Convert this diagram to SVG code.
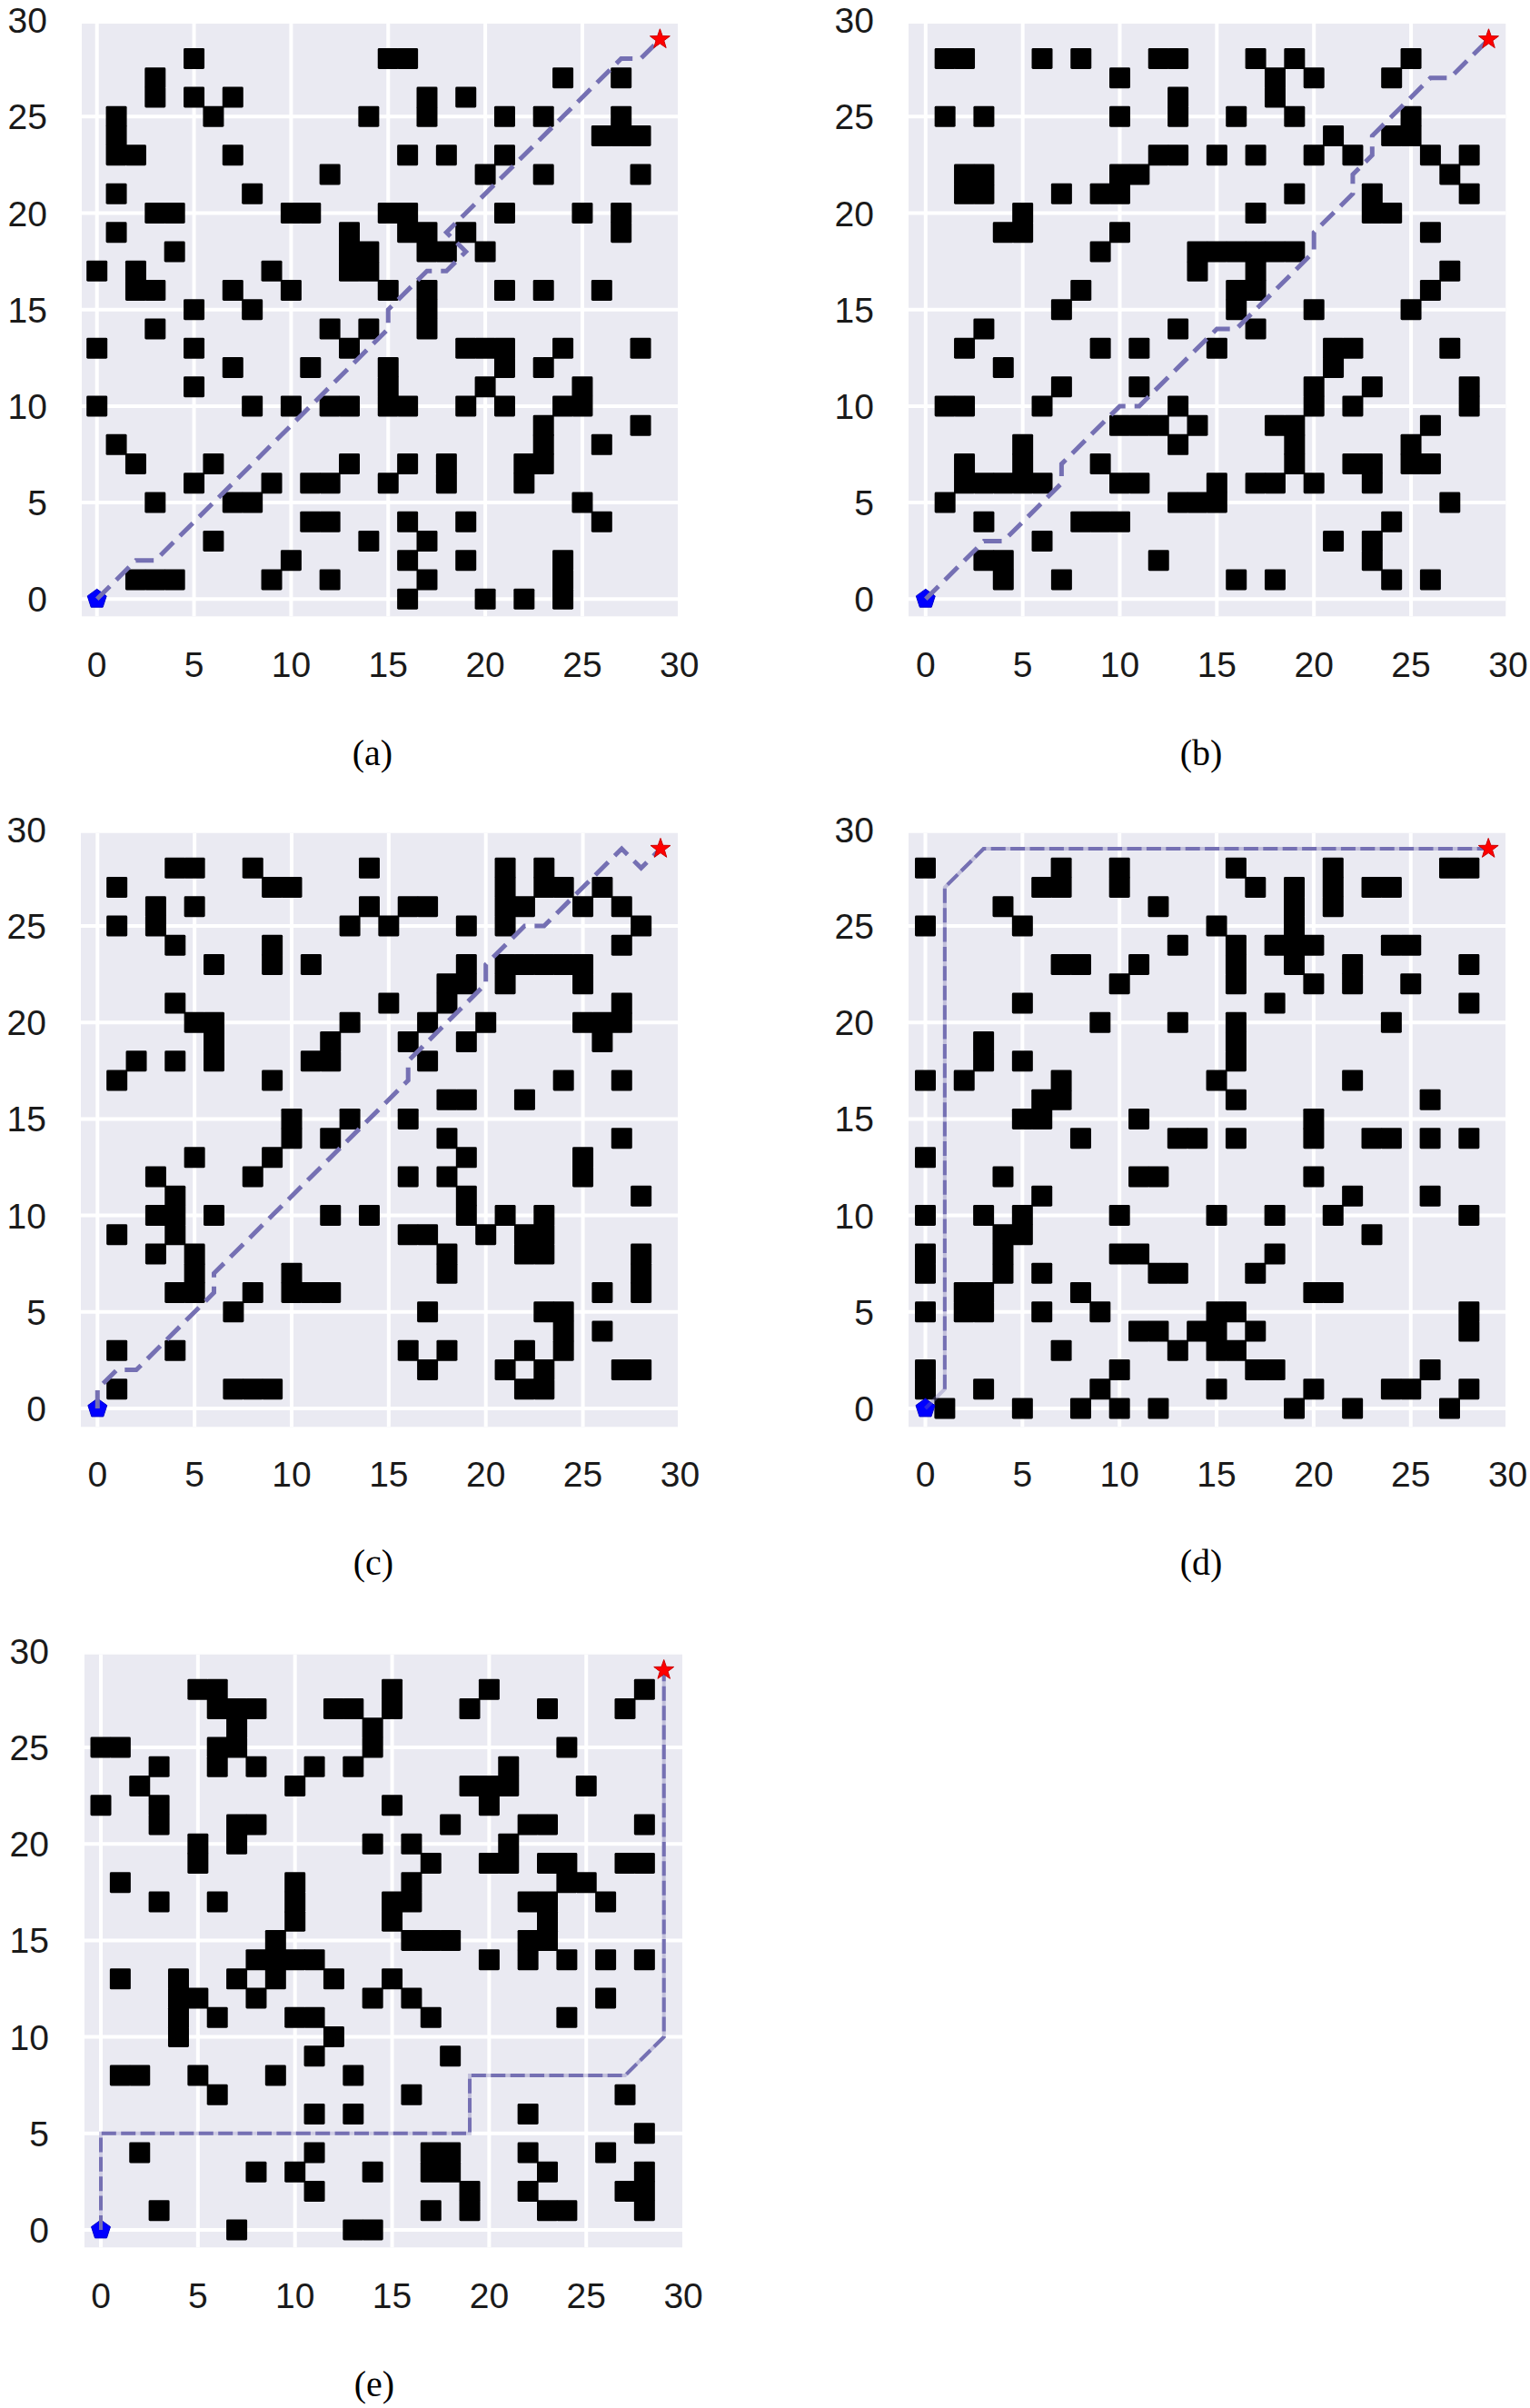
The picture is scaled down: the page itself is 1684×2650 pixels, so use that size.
<svg xmlns="http://www.w3.org/2000/svg" width="1684" height="2650" viewBox="0 0 1684 2650">
<style>
.bg{fill:#eaeaf2}
.gl{stroke:#ffffff;stroke-width:4;fill:none}
.tk{font-family:"Liberation Sans",Arial,sans-serif;font-size:39px;fill:#1a1a1a}
.tx{text-anchor:middle}
.ty{text-anchor:end}
.cap{font-family:"Liberation Serif","Times New Roman",serif;font-size:40px;fill:#000;text-anchor:middle}
.p1{fill:none;stroke:#7570b3;stroke-width:5;stroke-dasharray:20 10}
.p2{fill:none;stroke:#7570b3;stroke-width:4;stroke-dasharray:16 5.4}
.p2u{fill:none;stroke:#7570b3;stroke-width:4;stroke-opacity:0.35}
.cells use{fill:#000}
</style>
<defs>
<rect id="c" x="-0.538" y="-0.541" width="1.076" height="1.083" rx="0.07"/>
<path id="pent" d="M0,-11 L10.46,-3.4 L6.47,8.9 L-6.47,8.9 L-10.46,-3.4Z" fill="#0000ff" stroke="#0000cc" stroke-width="1"/>
<path id="star" d="M0,-11.5 L2.7,-3.72 L10.94,-3.55 L4.37,1.42 L6.76,9.3 L0,4.6 L-6.76,9.3 L-4.37,1.42 L-10.94,-3.55 L-2.7,-3.72Z" fill="#ff0000" stroke="#cc0000" stroke-width="1"/>
</defs>
<rect width="1684" height="2650" fill="#ffffff"/>

<!-- Panel (a) -->
<g id="panel-a">
<rect class="bg" x="90" y="26" width="656" height="652.3"/>
<path class="gl" d="M106.7 26V678.3M213.55 26V678.3M320.4 26V678.3M427.25 26V678.3M534.1 26V678.3M640.95 26V678.3M90 659.3H746M90 553.1H746M90 446.9H746M90 340.7H746M90 234.5H746M90 128.3H746"/>
<g class="cells" transform="translate(106.7 659.3) scale(21.37 -21.24)">
<use href="#c" x="5" y="28"/><use href="#c" x="15" y="28"/><use href="#c" x="16" y="28"/>
<use href="#c" x="3" y="27"/><use href="#c" x="3" y="26"/><use href="#c" x="5" y="26"/><use href="#c" x="7" y="26"/><use href="#c" x="6" y="25"/><use href="#c" x="14" y="25"/><use href="#c" x="17" y="26"/><use href="#c" x="17" y="25"/><use href="#c" x="19" y="26"/><use href="#c" x="24" y="27"/><use href="#c" x="27" y="27"/><use href="#c" x="21" y="25"/><use href="#c" x="23" y="25"/><use href="#c" x="27" y="25"/><use href="#c" x="26" y="24"/><use href="#c" x="27" y="24"/><use href="#c" x="28" y="24"/>
<use href="#c" x="1" y="25"/><use href="#c" x="1" y="24"/><use href="#c" x="1" y="23"/><use href="#c" x="2" y="23"/><use href="#c" x="7" y="23"/><use href="#c" x="16" y="23"/><use href="#c" x="18" y="23"/><use href="#c" x="21" y="23"/><use href="#c" x="20" y="22"/><use href="#c" x="12" y="22"/><use href="#c" x="23" y="22"/><use href="#c" x="28" y="22"/>
<use href="#c" x="1" y="21"/><use href="#c" x="8" y="21"/><use href="#c" x="3" y="20"/><use href="#c" x="4" y="20"/><use href="#c" x="10" y="20"/><use href="#c" x="11" y="20"/><use href="#c" x="15" y="20"/><use href="#c" x="16" y="20"/><use href="#c" x="16" y="19"/><use href="#c" x="17" y="19"/><use href="#c" x="17" y="18"/><use href="#c" x="18" y="18"/><use href="#c" x="19" y="19"/><use href="#c" x="20" y="18"/><use href="#c" x="21" y="20"/><use href="#c" x="25" y="20"/><use href="#c" x="27" y="20"/><use href="#c" x="27" y="19"/><use href="#c" x="1" y="19"/><use href="#c" x="4" y="18"/>
<use href="#c" x="13" y="19"/><use href="#c" x="13" y="18"/><use href="#c" x="14" y="18"/><use href="#c" x="13" y="17"/><use href="#c" x="14" y="17"/><use href="#c" x="15" y="16"/>
<use href="#c" x="0" y="17"/><use href="#c" x="2" y="17"/><use href="#c" x="2" y="16"/><use href="#c" x="3" y="16"/><use href="#c" x="9" y="17"/><use href="#c" x="10" y="16"/><use href="#c" x="7" y="16"/><use href="#c" x="8" y="15"/><use href="#c" x="5" y="15"/><use href="#c" x="17" y="16"/><use href="#c" x="17" y="15"/><use href="#c" x="17" y="14"/><use href="#c" x="21" y="16"/><use href="#c" x="23" y="16"/><use href="#c" x="26" y="16"/>
<use href="#c" x="3" y="14"/><use href="#c" x="12" y="14"/><use href="#c" x="14" y="14"/><use href="#c" x="13" y="13"/><use href="#c" x="0" y="13"/><use href="#c" x="5" y="13"/><use href="#c" x="7" y="12"/><use href="#c" x="11" y="12"/><use href="#c" x="15" y="12"/><use href="#c" x="15" y="11"/><use href="#c" x="15" y="10"/><use href="#c" x="16" y="10"/>
<use href="#c" x="19" y="13"/><use href="#c" x="20" y="13"/><use href="#c" x="21" y="13"/><use href="#c" x="21" y="12"/><use href="#c" x="20" y="11"/><use href="#c" x="19" y="10"/><use href="#c" x="21" y="10"/><use href="#c" x="24" y="13"/><use href="#c" x="23" y="12"/><use href="#c" x="28" y="13"/>
<use href="#c" x="5" y="11"/><use href="#c" x="0" y="10"/><use href="#c" x="8" y="10"/><use href="#c" x="10" y="10"/><use href="#c" x="12" y="10"/><use href="#c" x="13" y="10"/><use href="#c" x="25" y="11"/><use href="#c" x="25" y="10"/><use href="#c" x="24" y="10"/><use href="#c" x="23" y="9"/><use href="#c" x="23" y="8"/><use href="#c" x="23" y="7"/><use href="#c" x="22" y="7"/><use href="#c" x="22" y="6"/><use href="#c" x="28" y="9"/>
<use href="#c" x="1" y="8"/><use href="#c" x="2" y="7"/><use href="#c" x="26" y="8"/><use href="#c" x="6" y="7"/><use href="#c" x="5" y="6"/><use href="#c" x="9" y="6"/><use href="#c" x="13" y="7"/><use href="#c" x="11" y="6"/><use href="#c" x="12" y="6"/><use href="#c" x="16" y="7"/><use href="#c" x="15" y="6"/><use href="#c" x="18" y="7"/><use href="#c" x="18" y="6"/>
<use href="#c" x="3" y="5"/><use href="#c" x="7" y="5"/><use href="#c" x="8" y="5"/><use href="#c" x="25" y="5"/><use href="#c" x="26" y="4"/><use href="#c" x="11" y="4"/><use href="#c" x="12" y="4"/><use href="#c" x="16" y="4"/><use href="#c" x="17" y="3"/><use href="#c" x="16" y="2"/><use href="#c" x="17" y="1"/><use href="#c" x="16" y="0"/><use href="#c" x="19" y="4"/><use href="#c" x="19" y="2"/><use href="#c" x="6" y="3"/><use href="#c" x="14" y="3"/><use href="#c" x="10" y="2"/><use href="#c" x="9" y="1"/><use href="#c" x="12" y="1"/><use href="#c" x="2" y="1"/><use href="#c" x="3" y="1"/><use href="#c" x="4" y="1"/><use href="#c" x="20" y="0"/><use href="#c" x="22" y="0"/><use href="#c" x="24" y="2"/><use href="#c" x="24" y="1"/><use href="#c" x="24" y="0"/>
</g>
<use href="#pent" x="106.7" y="659.3"/>
<path class="p1" d="M106.7 659.3L149.44 616.82L170.81 616.82L427.25 361.94L427.25 340.7L469.99 298.22L491.36 298.22L512.73 276.98L491.36 255.74L683.69 64.58L705.06 64.58L726.43 43.34"/>
<use href="#star" x="726.4" y="43.3"/>
<g class="tk tx">
<text x="106.7" y="745.3">0</text><text x="213.55" y="745.3">5</text><text x="320.4" y="745.3">10</text><text x="427.25" y="745.3">15</text><text x="534.1" y="745.3">20</text><text x="640.95" y="745.3">25</text><text x="747.8" y="745.3">30</text>
</g>
<g class="tk ty">
<text x="52" y="673.3">0</text><text x="52" y="567.1">5</text><text x="52" y="460.9">10</text><text x="52" y="354.7">15</text><text x="52" y="248.5">20</text><text x="52" y="142.3">25</text><text x="52" y="36.1">30</text>
</g>
<text class="cap" x="410" y="842">(a)</text>
</g>

<!-- Panel (b) -->
<g id="panel-b">
<rect class="bg" x="1000" y="26" width="657.3" height="652.3"/>
<path class="gl" d="M1018.8 26V678.3M1125.65 26V678.3M1232.5 26V678.3M1339.35 26V678.3M1446.2 26V678.3M1553.05 26V678.3M1000 659.3H1657.3M1000 553.1H1657.3M1000 446.9H1657.3M1000 340.7H1657.3M1000 234.5H1657.3M1000 128.3H1657.3"/>
<g class="cells" transform="translate(1018.8 659.3) scale(21.37 -21.24)">
<use href="#c" x="1" y="28"/><use href="#c" x="2" y="28"/><use href="#c" x="6" y="28"/><use href="#c" x="8" y="28"/><use href="#c" x="12" y="28"/><use href="#c" x="13" y="28"/><use href="#c" x="17" y="28"/><use href="#c" x="19" y="28"/><use href="#c" x="25" y="28"/>
<use href="#c" x="10" y="27"/><use href="#c" x="18" y="27"/><use href="#c" x="18" y="26"/><use href="#c" x="20" y="27"/><use href="#c" x="24" y="27"/>
<use href="#c" x="13" y="26"/><use href="#c" x="13" y="25"/>
<use href="#c" x="1" y="25"/><use href="#c" x="3" y="25"/><use href="#c" x="10" y="25"/><use href="#c" x="16" y="25"/><use href="#c" x="19" y="25"/><use href="#c" x="25" y="25"/><use href="#c" x="25" y="24"/><use href="#c" x="24" y="24"/><use href="#c" x="21" y="24"/>
<use href="#c" x="12" y="23"/><use href="#c" x="13" y="23"/><use href="#c" x="15" y="23"/><use href="#c" x="17" y="23"/><use href="#c" x="20" y="23"/><use href="#c" x="22" y="23"/><use href="#c" x="26" y="23"/><use href="#c" x="28" y="23"/>
<use href="#c" x="2" y="22"/><use href="#c" x="3" y="22"/><use href="#c" x="2" y="21"/><use href="#c" x="3" y="21"/><use href="#c" x="10" y="22"/><use href="#c" x="11" y="22"/><use href="#c" x="9" y="21"/><use href="#c" x="10" y="21"/><use href="#c" x="27" y="22"/>
<use href="#c" x="7" y="21"/><use href="#c" x="19" y="21"/><use href="#c" x="23" y="21"/><use href="#c" x="23" y="20"/><use href="#c" x="24" y="20"/><use href="#c" x="28" y="21"/>
<use href="#c" x="5" y="20"/><use href="#c" x="5" y="19"/><use href="#c" x="4" y="19"/><use href="#c" x="17" y="20"/><use href="#c" x="10" y="19"/><use href="#c" x="26" y="19"/>
<use href="#c" x="9" y="18"/><use href="#c" x="14" y="18"/><use href="#c" x="15" y="18"/><use href="#c" x="16" y="18"/><use href="#c" x="17" y="18"/><use href="#c" x="18" y="18"/><use href="#c" x="19" y="18"/><use href="#c" x="14" y="17"/><use href="#c" x="17" y="17"/><use href="#c" x="16" y="16"/><use href="#c" x="17" y="16"/><use href="#c" x="16" y="15"/><use href="#c" x="17" y="14"/>
<use href="#c" x="27" y="17"/><use href="#c" x="8" y="16"/><use href="#c" x="26" y="16"/><use href="#c" x="7" y="15"/><use href="#c" x="20" y="15"/><use href="#c" x="25" y="15"/><use href="#c" x="3" y="14"/><use href="#c" x="13" y="14"/>
<use href="#c" x="2" y="13"/><use href="#c" x="9" y="13"/><use href="#c" x="11" y="13"/><use href="#c" x="15" y="13"/><use href="#c" x="21" y="13"/><use href="#c" x="22" y="13"/><use href="#c" x="21" y="12"/><use href="#c" x="20" y="11"/><use href="#c" x="20" y="10"/><use href="#c" x="27" y="13"/>
<use href="#c" x="4" y="12"/><use href="#c" x="7" y="11"/><use href="#c" x="11" y="11"/><use href="#c" x="23" y="11"/><use href="#c" x="28" y="11"/><use href="#c" x="28" y="10"/>
<use href="#c" x="1" y="10"/><use href="#c" x="2" y="10"/><use href="#c" x="6" y="10"/><use href="#c" x="13" y="10"/><use href="#c" x="22" y="10"/>
<use href="#c" x="10" y="9"/><use href="#c" x="11" y="9"/><use href="#c" x="12" y="9"/><use href="#c" x="14" y="9"/><use href="#c" x="13" y="8"/><use href="#c" x="18" y="9"/><use href="#c" x="19" y="9"/><use href="#c" x="19" y="8"/><use href="#c" x="19" y="7"/><use href="#c" x="26" y="9"/>
<use href="#c" x="5" y="8"/><use href="#c" x="5" y="7"/><use href="#c" x="25" y="8"/><use href="#c" x="25" y="7"/><use href="#c" x="26" y="7"/>
<use href="#c" x="2" y="7"/><use href="#c" x="9" y="7"/><use href="#c" x="22" y="7"/><use href="#c" x="23" y="7"/><use href="#c" x="23" y="6"/>
<use href="#c" x="2" y="6"/><use href="#c" x="3" y="6"/><use href="#c" x="4" y="6"/><use href="#c" x="5" y="6"/><use href="#c" x="6" y="6"/><use href="#c" x="10" y="6"/><use href="#c" x="11" y="6"/><use href="#c" x="15" y="6"/><use href="#c" x="15" y="5"/><use href="#c" x="13" y="5"/><use href="#c" x="14" y="5"/><use href="#c" x="17" y="6"/><use href="#c" x="18" y="6"/><use href="#c" x="20" y="6"/>
<use href="#c" x="1" y="5"/><use href="#c" x="27" y="5"/><use href="#c" x="3" y="4"/><use href="#c" x="8" y="4"/><use href="#c" x="9" y="4"/><use href="#c" x="10" y="4"/><use href="#c" x="24" y="4"/>
<use href="#c" x="6" y="3"/><use href="#c" x="21" y="3"/><use href="#c" x="23" y="3"/><use href="#c" x="23" y="2"/><use href="#c" x="24" y="1"/><use href="#c" x="3" y="2"/><use href="#c" x="4" y="2"/><use href="#c" x="4" y="1"/><use href="#c" x="12" y="2"/>
<use href="#c" x="7" y="1"/><use href="#c" x="16" y="1"/><use href="#c" x="18" y="1"/><use href="#c" x="26" y="1"/>
</g>
<use href="#pent" x="1018.8" y="659.3"/>
<path class="p1" d="M1018.8 659.3L1082.91 595.58L1104.28 595.58L1168.39 531.86L1168.39 510.62L1232.5 446.9L1253.87 446.9L1339.35 361.94L1360.72 361.94L1446.2 276.98L1446.2 255.74L1488.94 213.26L1488.94 192.02L1510.31 170.78L1510.31 149.54L1574.42 85.82L1595.79 85.82L1638.53 43.34"/>
<use href="#star" x="1638.5" y="43.3"/>
<g class="tk tx">
<text x="1018.8" y="745.3">0</text><text x="1125.65" y="745.3">5</text><text x="1232.5" y="745.3">10</text><text x="1339.35" y="745.3">15</text><text x="1446.2" y="745.3">20</text><text x="1553.05" y="745.3">25</text><text x="1659.9" y="745.3">30</text>
</g>
<g class="tk ty">
<text x="962" y="673.3">0</text><text x="962" y="567.1">5</text><text x="962" y="460.9">10</text><text x="962" y="354.7">15</text><text x="962" y="248.5">20</text><text x="962" y="142.3">25</text><text x="962" y="36.1">30</text>
</g>
<text class="cap" x="1322" y="842">(b)</text>
</g>

<!-- Panel (c) -->
<g id="panel-c">
<rect class="bg" x="89" y="916.7" width="657" height="653.6"/>
<path class="gl" d="M107.3 916.7V1570.3M214.15 916.7V1570.3M321 916.7V1570.3M427.85 916.7V1570.3M534.7 916.7V1570.3M641.55 916.7V1570.3M89 1550H746M89 1443.8H746M89 1337.6H746M89 1231.4H746M89 1125.2H746M89 1019H746"/>
<g class="cells" transform="translate(107.3 1550) scale(21.37 -21.24)">
<use href="#c" x="4" y="28"/><use href="#c" x="5" y="28"/><use href="#c" x="8" y="28"/><use href="#c" x="9" y="27"/><use href="#c" x="10" y="27"/><use href="#c" x="14" y="28"/><use href="#c" x="21" y="28"/><use href="#c" x="21" y="27"/><use href="#c" x="21" y="26"/><use href="#c" x="21" y="25"/><use href="#c" x="22" y="26"/><use href="#c" x="23" y="28"/><use href="#c" x="23" y="27"/><use href="#c" x="24" y="27"/>
<use href="#c" x="1" y="27"/><use href="#c" x="26" y="27"/><use href="#c" x="25" y="26"/><use href="#c" x="27" y="26"/><use href="#c" x="28" y="25"/><use href="#c" x="27" y="24"/>
<use href="#c" x="3" y="26"/><use href="#c" x="3" y="25"/><use href="#c" x="4" y="24"/><use href="#c" x="5" y="26"/><use href="#c" x="14" y="26"/><use href="#c" x="16" y="26"/><use href="#c" x="17" y="26"/><use href="#c" x="15" y="25"/><use href="#c" x="13" y="25"/>
<use href="#c" x="1" y="25"/><use href="#c" x="19" y="25"/><use href="#c" x="9" y="24"/><use href="#c" x="9" y="23"/><use href="#c" x="6" y="23"/><use href="#c" x="11" y="23"/>
<use href="#c" x="19" y="23"/><use href="#c" x="19" y="22"/><use href="#c" x="18" y="22"/><use href="#c" x="18" y="21"/><use href="#c" x="21" y="23"/><use href="#c" x="22" y="23"/><use href="#c" x="23" y="23"/><use href="#c" x="24" y="23"/><use href="#c" x="25" y="23"/><use href="#c" x="21" y="22"/><use href="#c" x="25" y="22"/>
<use href="#c" x="4" y="21"/><use href="#c" x="5" y="20"/><use href="#c" x="6" y="20"/><use href="#c" x="6" y="19"/><use href="#c" x="6" y="18"/><use href="#c" x="15" y="21"/><use href="#c" x="27" y="21"/><use href="#c" x="27" y="20"/><use href="#c" x="25" y="20"/><use href="#c" x="26" y="20"/><use href="#c" x="26" y="19"/>
<use href="#c" x="13" y="20"/><use href="#c" x="12" y="19"/><use href="#c" x="11" y="18"/><use href="#c" x="12" y="18"/><use href="#c" x="17" y="20"/><use href="#c" x="16" y="19"/><use href="#c" x="17" y="18"/><use href="#c" x="20" y="20"/><use href="#c" x="19" y="19"/>
<use href="#c" x="2" y="18"/><use href="#c" x="1" y="17"/><use href="#c" x="4" y="18"/><use href="#c" x="9" y="17"/><use href="#c" x="24" y="17"/><use href="#c" x="27" y="17"/><use href="#c" x="18" y="16"/><use href="#c" x="19" y="16"/><use href="#c" x="22" y="16"/>
<use href="#c" x="10" y="15"/><use href="#c" x="10" y="14"/><use href="#c" x="9" y="13"/><use href="#c" x="8" y="12"/><use href="#c" x="13" y="15"/><use href="#c" x="12" y="14"/><use href="#c" x="16" y="15"/>
<use href="#c" x="18" y="14"/><use href="#c" x="19" y="13"/><use href="#c" x="18" y="12"/><use href="#c" x="19" y="11"/><use href="#c" x="19" y="10"/><use href="#c" x="20" y="9"/><use href="#c" x="21" y="10"/><use href="#c" x="22" y="9"/><use href="#c" x="23" y="9"/><use href="#c" x="22" y="8"/><use href="#c" x="23" y="8"/><use href="#c" x="23" y="10"/><use href="#c" x="27" y="14"/>
<use href="#c" x="5" y="13"/><use href="#c" x="25" y="13"/><use href="#c" x="25" y="12"/><use href="#c" x="3" y="12"/><use href="#c" x="4" y="11"/><use href="#c" x="4" y="10"/><use href="#c" x="4" y="9"/><use href="#c" x="3" y="10"/><use href="#c" x="3" y="8"/><use href="#c" x="16" y="12"/><use href="#c" x="28" y="11"/>
<use href="#c" x="6" y="10"/><use href="#c" x="12" y="10"/><use href="#c" x="14" y="10"/><use href="#c" x="1" y="9"/><use href="#c" x="16" y="9"/><use href="#c" x="17" y="9"/><use href="#c" x="18" y="8"/><use href="#c" x="18" y="7"/>
<use href="#c" x="5" y="8"/><use href="#c" x="5" y="7"/><use href="#c" x="5" y="6"/><use href="#c" x="4" y="6"/><use href="#c" x="28" y="8"/><use href="#c" x="28" y="7"/><use href="#c" x="28" y="6"/><use href="#c" x="10" y="7"/><use href="#c" x="10" y="6"/><use href="#c" x="11" y="6"/><use href="#c" x="12" y="6"/>
<use href="#c" x="8" y="6"/><use href="#c" x="7" y="5"/><use href="#c" x="26" y="6"/><use href="#c" x="17" y="5"/><use href="#c" x="23" y="5"/><use href="#c" x="24" y="5"/><use href="#c" x="24" y="4"/><use href="#c" x="24" y="3"/><use href="#c" x="26" y="4"/>
<use href="#c" x="1" y="3"/><use href="#c" x="4" y="3"/><use href="#c" x="16" y="3"/><use href="#c" x="18" y="3"/><use href="#c" x="17" y="2"/><use href="#c" x="22" y="3"/><use href="#c" x="21" y="2"/><use href="#c" x="23" y="2"/><use href="#c" x="23" y="1"/><use href="#c" x="22" y="1"/><use href="#c" x="27" y="2"/><use href="#c" x="28" y="2"/><use href="#c" x="1" y="1"/><use href="#c" x="7" y="1"/><use href="#c" x="8" y="1"/><use href="#c" x="9" y="1"/>
</g>
<use href="#pent" x="107.3" y="1550"/>
<path class="p1" d="M107.3 1550L107.3 1528.76L128.67 1507.52L150.04 1507.52L235.52 1422.56L235.52 1401.32L449.22 1188.92L449.22 1167.68L534.7 1082.72L534.7 1061.48L577.44 1019L598.81 1019L684.29 934.04L705.66 955.28L727.03 934.04"/>
<use href="#star" x="727" y="934"/>
<g class="tk tx">
<text x="107.3" y="1636">0</text><text x="214.15" y="1636">5</text><text x="321" y="1636">10</text><text x="427.85" y="1636">15</text><text x="534.7" y="1636">20</text><text x="641.55" y="1636">25</text><text x="748.4" y="1636">30</text>
</g>
<g class="tk ty">
<text x="51" y="1564">0</text><text x="51" y="1457.8">5</text><text x="51" y="1351.6">10</text><text x="51" y="1245.4">15</text><text x="51" y="1139.2">20</text><text x="51" y="1033">25</text><text x="51" y="926.8">30</text>
</g>
<text class="cap" x="411" y="1733">(c)</text>
</g>

<!-- Panel (d) -->
<g id="panel-d">
<rect class="bg" x="1000" y="916.7" width="657" height="653.6"/>
<path class="gl" d="M1018.5 916.7V1570.3M1125.35 916.7V1570.3M1232.2 916.7V1570.3M1339.05 916.7V1570.3M1445.9 916.7V1570.3M1552.75 916.7V1570.3M1000 1550H1657M1000 1443.8H1657M1000 1337.6H1657M1000 1231.4H1657M1000 1125.2H1657M1000 1019H1657"/>
<g class="cells" transform="translate(1018.5 1550) scale(21.37 -21.24)">
<use href="#c" x="0" y="28"/><use href="#c" x="7" y="28"/><use href="#c" x="7" y="27"/><use href="#c" x="6" y="27"/><use href="#c" x="10" y="28"/><use href="#c" x="10" y="27"/><use href="#c" x="16" y="28"/><use href="#c" x="17" y="27"/><use href="#c" x="21" y="28"/><use href="#c" x="21" y="27"/><use href="#c" x="21" y="26"/><use href="#c" x="27" y="28"/><use href="#c" x="28" y="28"/>
<use href="#c" x="19" y="27"/><use href="#c" x="19" y="26"/><use href="#c" x="19" y="25"/><use href="#c" x="19" y="24"/><use href="#c" x="19" y="23"/><use href="#c" x="18" y="24"/><use href="#c" x="20" y="24"/><use href="#c" x="20" y="22"/><use href="#c" x="23" y="27"/><use href="#c" x="24" y="27"/>
<use href="#c" x="4" y="26"/><use href="#c" x="5" y="25"/><use href="#c" x="12" y="26"/><use href="#c" x="0" y="25"/><use href="#c" x="15" y="25"/><use href="#c" x="16" y="24"/><use href="#c" x="16" y="23"/><use href="#c" x="16" y="22"/>
<use href="#c" x="13" y="24"/><use href="#c" x="24" y="24"/><use href="#c" x="25" y="24"/><use href="#c" x="7" y="23"/><use href="#c" x="8" y="23"/><use href="#c" x="11" y="23"/><use href="#c" x="10" y="22"/><use href="#c" x="22" y="23"/><use href="#c" x="22" y="22"/><use href="#c" x="28" y="23"/><use href="#c" x="25" y="22"/>
<use href="#c" x="5" y="21"/><use href="#c" x="18" y="21"/><use href="#c" x="28" y="21"/><use href="#c" x="9" y="20"/><use href="#c" x="13" y="20"/><use href="#c" x="16" y="20"/><use href="#c" x="16" y="19"/><use href="#c" x="16" y="18"/><use href="#c" x="24" y="20"/>
<use href="#c" x="3" y="19"/><use href="#c" x="3" y="18"/><use href="#c" x="2" y="17"/><use href="#c" x="5" y="18"/><use href="#c" x="0" y="17"/><use href="#c" x="7" y="17"/><use href="#c" x="7" y="16"/><use href="#c" x="6" y="16"/><use href="#c" x="6" y="15"/><use href="#c" x="5" y="15"/><use href="#c" x="15" y="17"/><use href="#c" x="16" y="16"/><use href="#c" x="22" y="17"/><use href="#c" x="26" y="16"/>
<use href="#c" x="11" y="15"/><use href="#c" x="20" y="15"/><use href="#c" x="20" y="14"/><use href="#c" x="8" y="14"/><use href="#c" x="13" y="14"/><use href="#c" x="14" y="14"/><use href="#c" x="16" y="14"/><use href="#c" x="23" y="14"/><use href="#c" x="24" y="14"/><use href="#c" x="26" y="14"/><use href="#c" x="28" y="14"/>
<use href="#c" x="0" y="13"/><use href="#c" x="4" y="12"/><use href="#c" x="11" y="12"/><use href="#c" x="12" y="12"/><use href="#c" x="20" y="12"/><use href="#c" x="6" y="11"/><use href="#c" x="22" y="11"/><use href="#c" x="21" y="10"/><use href="#c" x="26" y="11"/>
<use href="#c" x="0" y="10"/><use href="#c" x="3" y="10"/><use href="#c" x="5" y="10"/><use href="#c" x="5" y="9"/><use href="#c" x="4" y="9"/><use href="#c" x="4" y="8"/><use href="#c" x="4" y="7"/><use href="#c" x="10" y="10"/><use href="#c" x="15" y="10"/><use href="#c" x="18" y="10"/><use href="#c" x="28" y="10"/><use href="#c" x="23" y="9"/>
<use href="#c" x="0" y="8"/><use href="#c" x="0" y="7"/><use href="#c" x="10" y="8"/><use href="#c" x="11" y="8"/><use href="#c" x="12" y="7"/><use href="#c" x="13" y="7"/><use href="#c" x="18" y="8"/><use href="#c" x="17" y="7"/><use href="#c" x="6" y="7"/>
<use href="#c" x="2" y="6"/><use href="#c" x="3" y="6"/><use href="#c" x="2" y="5"/><use href="#c" x="3" y="5"/><use href="#c" x="8" y="6"/><use href="#c" x="9" y="5"/><use href="#c" x="20" y="6"/><use href="#c" x="21" y="6"/>
<use href="#c" x="0" y="5"/><use href="#c" x="6" y="5"/><use href="#c" x="15" y="5"/><use href="#c" x="16" y="5"/><use href="#c" x="11" y="4"/><use href="#c" x="12" y="4"/><use href="#c" x="14" y="4"/><use href="#c" x="15" y="4"/><use href="#c" x="17" y="4"/><use href="#c" x="13" y="3"/><use href="#c" x="15" y="3"/><use href="#c" x="16" y="3"/><use href="#c" x="7" y="3"/><use href="#c" x="28" y="5"/><use href="#c" x="28" y="4"/>
<use href="#c" x="0" y="2"/><use href="#c" x="0" y="1"/><use href="#c" x="10" y="2"/><use href="#c" x="9" y="1"/><use href="#c" x="17" y="2"/><use href="#c" x="18" y="2"/><use href="#c" x="26" y="2"/><use href="#c" x="24" y="1"/><use href="#c" x="25" y="1"/>
<use href="#c" x="3" y="1"/><use href="#c" x="15" y="1"/><use href="#c" x="20" y="1"/><use href="#c" x="19" y="0"/><use href="#c" x="28" y="1"/><use href="#c" x="27" y="0"/>
<use href="#c" x="1" y="0"/><use href="#c" x="5" y="0"/><use href="#c" x="8" y="0"/><use href="#c" x="10" y="0"/><use href="#c" x="12" y="0"/><use href="#c" x="22" y="0"/>
</g>
<use href="#pent" x="1018.5" y="1550"/>
<path class="p2u" d="M1018.5 1550L1039.87 1528.76L1039.87 976.52L1082.61 934.04L1638.23 934.04"/>
<path class="p2" d="M1039.87 1528.76L1039.87 976.52L1082.61 934.04L1638.23 934.04"/>
<use href="#star" x="1638.2" y="934"/>
<g class="tk tx">
<text x="1018.5" y="1636">0</text><text x="1125.35" y="1636">5</text><text x="1232.2" y="1636">10</text><text x="1339.05" y="1636">15</text><text x="1445.9" y="1636">20</text><text x="1552.75" y="1636">25</text><text x="1659.6" y="1636">30</text>
</g>
<g class="tk ty">
<text x="962" y="1564">0</text><text x="962" y="1457.8">5</text><text x="962" y="1351.6">10</text><text x="962" y="1245.4">15</text><text x="962" y="1139.2">20</text><text x="962" y="1033">25</text><text x="962" y="926.8">30</text>
</g>
<text class="cap" x="1322" y="1733">(d)</text>
</g>

<!-- Panel (e) -->
<g id="panel-e">
<rect class="bg" x="93" y="1820.7" width="658" height="652.6"/>
<path class="gl" d="M111 1820.7V2473.3M217.85 1820.7V2473.3M324.7 1820.7V2473.3M431.55 1820.7V2473.3M538.4 1820.7V2473.3M645.25 1820.7V2473.3M93 2454H751M93 2347.8H751M93 2241.6H751M93 2135.4H751M93 2029.2H751M93 1923H751"/>
<g class="cells" transform="translate(111 2454) scale(21.37 -21.24)">
<use href="#c" x="5" y="28"/><use href="#c" x="6" y="28"/><use href="#c" x="6" y="27"/><use href="#c" x="7" y="27"/><use href="#c" x="8" y="27"/><use href="#c" x="7" y="26"/><use href="#c" x="7" y="25"/><use href="#c" x="6" y="25"/><use href="#c" x="6" y="24"/><use href="#c" x="8" y="24"/>
<use href="#c" x="15" y="28"/><use href="#c" x="15" y="27"/><use href="#c" x="12" y="27"/><use href="#c" x="13" y="27"/><use href="#c" x="14" y="26"/><use href="#c" x="14" y="25"/><use href="#c" x="13" y="24"/>
<use href="#c" x="20" y="28"/><use href="#c" x="19" y="27"/><use href="#c" x="23" y="27"/><use href="#c" x="28" y="28"/><use href="#c" x="27" y="27"/>
<use href="#c" x="0" y="25"/><use href="#c" x="1" y="25"/><use href="#c" x="24" y="25"/>
<use href="#c" x="3" y="24"/><use href="#c" x="2" y="23"/><use href="#c" x="3" y="22"/><use href="#c" x="3" y="21"/><use href="#c" x="11" y="24"/><use href="#c" x="10" y="23"/><use href="#c" x="21" y="24"/><use href="#c" x="21" y="23"/><use href="#c" x="19" y="23"/><use href="#c" x="20" y="23"/><use href="#c" x="20" y="22"/><use href="#c" x="25" y="23"/>
<use href="#c" x="0" y="22"/><use href="#c" x="15" y="22"/>
<use href="#c" x="7" y="21"/><use href="#c" x="8" y="21"/><use href="#c" x="7" y="20"/><use href="#c" x="18" y="21"/><use href="#c" x="22" y="21"/><use href="#c" x="23" y="21"/><use href="#c" x="21" y="20"/><use href="#c" x="21" y="19"/><use href="#c" x="20" y="19"/><use href="#c" x="28" y="21"/>
<use href="#c" x="5" y="20"/><use href="#c" x="5" y="19"/><use href="#c" x="14" y="20"/><use href="#c" x="16" y="20"/><use href="#c" x="17" y="19"/><use href="#c" x="16" y="18"/><use href="#c" x="16" y="17"/><use href="#c" x="15" y="17"/><use href="#c" x="15" y="16"/><use href="#c" x="16" y="15"/><use href="#c" x="17" y="15"/><use href="#c" x="18" y="15"/>
<use href="#c" x="23" y="19"/><use href="#c" x="24" y="19"/><use href="#c" x="24" y="18"/><use href="#c" x="25" y="18"/><use href="#c" x="26" y="17"/><use href="#c" x="27" y="19"/><use href="#c" x="28" y="19"/>
<use href="#c" x="1" y="18"/><use href="#c" x="3" y="17"/><use href="#c" x="6" y="17"/>
<use href="#c" x="10" y="18"/><use href="#c" x="10" y="17"/><use href="#c" x="10" y="16"/><use href="#c" x="9" y="15"/><use href="#c" x="8" y="14"/><use href="#c" x="9" y="14"/><use href="#c" x="10" y="14"/><use href="#c" x="11" y="14"/><use href="#c" x="7" y="13"/><use href="#c" x="9" y="13"/><use href="#c" x="12" y="13"/><use href="#c" x="8" y="12"/>
<use href="#c" x="22" y="17"/><use href="#c" x="23" y="17"/><use href="#c" x="23" y="16"/><use href="#c" x="22" y="15"/><use href="#c" x="23" y="15"/><use href="#c" x="22" y="14"/>
<use href="#c" x="20" y="14"/><use href="#c" x="24" y="14"/><use href="#c" x="26" y="14"/><use href="#c" x="28" y="14"/>
<use href="#c" x="1" y="13"/><use href="#c" x="4" y="13"/><use href="#c" x="4" y="12"/><use href="#c" x="4" y="11"/><use href="#c" x="4" y="10"/><use href="#c" x="5" y="12"/><use href="#c" x="6" y="11"/>
<use href="#c" x="15" y="13"/><use href="#c" x="14" y="12"/><use href="#c" x="16" y="12"/><use href="#c" x="17" y="11"/><use href="#c" x="26" y="12"/>
<use href="#c" x="10" y="11"/><use href="#c" x="11" y="11"/><use href="#c" x="12" y="10"/><use href="#c" x="11" y="9"/><use href="#c" x="24" y="11"/><use href="#c" x="18" y="9"/>
<use href="#c" x="1" y="8"/><use href="#c" x="2" y="8"/><use href="#c" x="5" y="8"/><use href="#c" x="6" y="7"/><use href="#c" x="9" y="8"/><use href="#c" x="13" y="8"/><use href="#c" x="16" y="7"/><use href="#c" x="27" y="7"/>
<use href="#c" x="11" y="6"/><use href="#c" x="13" y="6"/><use href="#c" x="22" y="6"/><use href="#c" x="28" y="5"/>
<use href="#c" x="2" y="4"/><use href="#c" x="11" y="4"/><use href="#c" x="10" y="3"/><use href="#c" x="11" y="2"/><use href="#c" x="17" y="4"/><use href="#c" x="18" y="4"/><use href="#c" x="17" y="3"/><use href="#c" x="18" y="3"/><use href="#c" x="19" y="2"/><use href="#c" x="19" y="1"/><use href="#c" x="17" y="1"/><use href="#c" x="22" y="4"/><use href="#c" x="23" y="3"/><use href="#c" x="22" y="2"/><use href="#c" x="23" y="1"/><use href="#c" x="24" y="1"/><use href="#c" x="26" y="4"/>
<use href="#c" x="8" y="3"/><use href="#c" x="14" y="3"/><use href="#c" x="28" y="3"/><use href="#c" x="28" y="2"/><use href="#c" x="28" y="1"/><use href="#c" x="27" y="2"/><use href="#c" x="3" y="1"/><use href="#c" x="7" y="0"/><use href="#c" x="13" y="0"/><use href="#c" x="14" y="0"/>
</g>
<use href="#pent" x="111" y="2454"/>
<path class="p2u" d="M111 2454L111 2347.8L517.03 2347.8L517.03 2284.08L687.99 2284.08L730.73 2241.6L730.73 1838.04"/>
<path class="p2" d="M111 2454L111 2347.8L517.03 2347.8L517.03 2284.08L687.99 2284.08L730.73 2241.6L730.73 1838.04"/>
<use href="#star" x="730.7" y="1838"/>
<g class="tk tx">
<text x="111" y="2540">0</text><text x="217.85" y="2540">5</text><text x="324.7" y="2540">10</text><text x="431.55" y="2540">15</text><text x="538.4" y="2540">20</text><text x="645.25" y="2540">25</text><text x="752.1" y="2540">30</text>
</g>
<g class="tk ty">
<text x="54" y="2468">0</text><text x="54" y="2361.8">5</text><text x="54" y="2255.6">10</text><text x="54" y="2149.4">15</text><text x="54" y="2043.2">20</text><text x="54" y="1937">25</text><text x="54" y="1830.8">30</text>
</g>
<text class="cap" x="412" y="2637">(e)</text>
</g>
</svg>
